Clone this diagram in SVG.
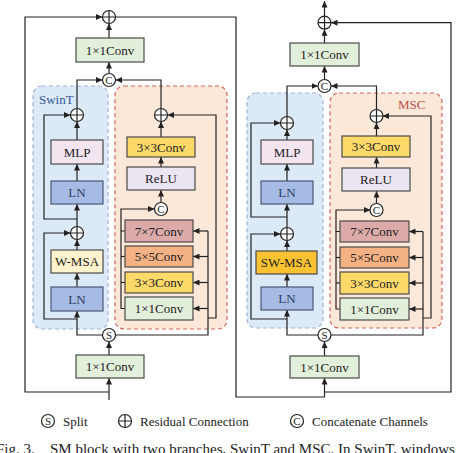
<svg xmlns="http://www.w3.org/2000/svg" width="474" height="453" viewBox="0 0 474 453">
<defs>
<marker id="ah" markerUnits="userSpaceOnUse" markerWidth="7" markerHeight="6" refX="6.5" refY="3" orient="auto">
<path d="M0,0 L6.5,3 L0,6 z" fill="#222"/>
</marker>
<style>
text{font-family:"Liberation Serif","Times New Roman",serif;fill:#222}
.bx{stroke:#4a4a4a;stroke-width:1.2}
.lbl{font-size:13px;text-anchor:middle}
.ln{fill:none;stroke:#222;stroke-width:1.2}
.ar{fill:none;stroke:#222;stroke-width:1.2;marker-end:url(#ah)}
.op{fill:#fff;stroke:#222;stroke-width:1.2}
.opt{font-size:11px;text-anchor:middle}
.g{fill:#e2efda}.p7{fill:#dcaaa9}.p5{fill:#f4b183}.p3{fill:#fdd96a}
.relu{fill:#ebe4f1}.mlp{fill:#f3e5ef}.lnb{fill:#a6bbe3;stroke:#4a5878}.wm{fill:#fff2cc}.swm{fill:#fcc232}
.lnt{fill:#2c3e66}
.swc{fill:#dce9f6;stroke:#9fb4d6;stroke-width:1.2;stroke-dasharray:4 3}
.msc{fill:#fce8d9;stroke:#d5655c;stroke-width:1.2;stroke-dasharray:4 3}
</style>
</defs>
<rect width="474" height="453" fill="#fff"/>

<!-- containers -->
<g id="swint-left"><rect class="swc" x="33" y="86" width="75" height="243" rx="9"/><text x="39" y="104" style="font-size:13px;fill:#2f5597">SwinT</text></g>
<g id="msc-left"><rect class="msc" x="115" y="86" width="112" height="243" rx="9"/></g>
<g id="swint-right"><rect class="swc" x="247" y="93" width="76" height="235" rx="9"/></g>
<g id="msc-right"><rect class="msc" x="330" y="93" width="112" height="235" rx="9"/><text x="398" y="109" style="font-size:13px;fill:#c0504d">MSC</text></g>

<!-- connectors -->
<g id="connectors">
<!-- left block -->
<polyline class="ar" points="109,392 25,392 25,17 102.5,17"/>
<polyline class="ar" points="115.5,17 236,17 236,397 324.5,397 324.5,378"/>
<line class="ar" x1="109" y1="400" x2="109" y2="378"/>
<line class="ar" x1="109" y1="355" x2="109" y2="341.5"/>
<polyline class="ar" points="102.5,335 77,335 77,311"/>
<polyline class="ln" points="115.5,335 208,335 208,231"/>
<line class="ar" x1="208" y1="231" x2="193" y2="231"/>
<line class="ar" x1="208" y1="256.5" x2="193" y2="256.5"/>
<line class="ar" x1="208" y1="282.5" x2="193" y2="282.5"/>
<line class="ar" x1="208" y1="308.5" x2="193" y2="308.5"/>
<polyline class="ar" points="208,318 216,318 216,115 167.5,115"/>
<polyline class="ln" points="125,308.5 121,308.5 121,231 125,231"/>
<line class="ln" x1="121" y1="256.5" x2="125" y2="256.5"/>
<line class="ln" x1="121" y1="282.5" x2="125" y2="282.5"/>
<polyline class="ar" points="121,231 121,209 154.5,209"/>
<line class="ar" x1="161" y1="202.5" x2="161" y2="190"/>
<line class="ar" x1="161" y1="167" x2="161" y2="157"/>
<line class="ar" x1="161" y1="137" x2="161" y2="121.5"/>
<polyline class="ar" points="161,108.5 161,80 115.5,80"/>
<line class="ar" x1="77" y1="287" x2="77" y2="273"/>
<line class="ar" x1="77" y1="250" x2="77" y2="239.5"/>
<line class="ar" x1="77" y1="226.5" x2="77" y2="204"/>
<line class="ar" x1="77" y1="181" x2="77" y2="164"/>
<line class="ar" x1="77" y1="140" x2="77" y2="121.5"/>
<polyline class="ar" points="77,108.5 77,80 102.5,80"/>
<polyline class="ar" points="77,319 44,319 44,233 70.5,233"/>
<polyline class="ar" points="77,219 44,219 44,115 70.5,115"/>
<line class="ar" x1="109" y1="73.5" x2="109" y2="62"/>
<line class="ar" x1="109" y1="38" x2="109" y2="23.5"/>
<!-- right block -->
<polyline class="ar" points="324.5,392 451,392 451,22.7 331,22.7"/>
<line class="ar" x1="324.5" y1="16.2" x2="324.5" y2="1"/>
<line class="ar" x1="324.5" y1="79.5" x2="324.5" y2="66"/>
<line class="ar" x1="324.5" y1="43" x2="324.5" y2="29.2"/>
<line class="ar" x1="324.5" y1="356" x2="324.5" y2="341.5"/>
<polyline class="ar" points="318,335 287,335 287,310"/>
<line class="ar" x1="287" y1="287" x2="287" y2="274"/>
<line class="ar" x1="287" y1="251" x2="287" y2="240.5"/>
<line class="ar" x1="287" y1="227.5" x2="287" y2="204"/>
<line class="ar" x1="287" y1="181" x2="287" y2="164"/>
<line class="ar" x1="287" y1="140" x2="287" y2="129.5"/>
<polyline class="ar" points="287,116.5 287,86 318,86"/>
<polyline class="ar" points="287,319 251,319 251,234 280.5,234"/>
<polyline class="ar" points="287,217 251,217 251,123 280.5,123"/>
<polyline class="ln" points="331,335 423,335 423,231.5"/>
<line class="ar" x1="423" y1="231.5" x2="409" y2="231.5"/>
<line class="ar" x1="423" y1="257.5" x2="409" y2="257.5"/>
<line class="ar" x1="423" y1="283" x2="409" y2="283"/>
<line class="ar" x1="423" y1="309" x2="409" y2="309"/>
<polyline class="ar" points="423,318 431,318 431,116 382.5,116"/>
<polyline class="ln" points="340,309 336,309 336,231.5 340,231.5"/>
<line class="ln" x1="336" y1="257.5" x2="340" y2="257.5"/>
<line class="ln" x1="336" y1="283" x2="340" y2="283"/>
<polyline class="ar" points="336,231.5 336,210 370.5,210"/>
<line class="ar" x1="376.5" y1="203.5" x2="376.5" y2="191"/>
<line class="ar" x1="376.5" y1="168" x2="376.5" y2="157"/>
<line class="ar" x1="376.5" y1="136" x2="376.5" y2="122.5"/>
<polyline class="ar" points="376.5,109.5 376.5,86 331,86"/>
</g>

<!-- left block nodes -->
<g id="L-plus-top"><circle class="op" cx="109" cy="17" r="6.5"/><path class="ln" d="M102.5,17 H115.5 M109,10.5 V23.5"/></g>
<g id="L-conv-top"><rect class="bx g" x="76" y="38" width="68" height="24"/><text class="lbl" x="110" y="54.5">1×1Conv</text></g>
<g id="L-concat"><circle class="op" cx="109" cy="80" r="6.5"/><text class="opt" x="109" y="84">C</text></g>
<g id="L-sw-plus2"><circle class="op" cx="77" cy="115" r="6.5"/><path class="ln" d="M70.5,115 H83.5 M77,108.5 V121.5"/></g>
<g id="L-mlp"><rect class="bx mlp" x="51" y="140" width="52" height="24"/><text class="lbl" x="77" y="156.5">MLP</text></g>
<g id="L-ln2"><rect class="bx lnb" x="51" y="181" width="52" height="23"/><text class="lbl lnt" x="77" y="197">LN</text></g>
<g id="L-sw-plus1"><circle class="op" cx="77" cy="233" r="6.5"/><path class="ln" d="M70.5,233 H83.5 M77,226.5 V239.5"/></g>
<g id="L-wmsa"><rect class="bx wm" x="51" y="250" width="52" height="23"/><text class="lbl" x="77" y="266">W-MSA</text></g>
<g id="L-ln1"><rect class="bx lnb" x="51" y="287" width="52" height="24"/><text class="lbl lnt" x="77" y="303.5">LN</text></g>
<g id="L-msc-plus"><circle class="op" cx="161" cy="115" r="6.5"/><path class="ln" d="M154.5,115 H167.5 M161,108.5 V121.5"/></g>
<g id="L-msc-conv3"><rect class="bx p3" x="127" y="137" width="68" height="20"/><text class="lbl" x="161" y="151.5">3×3Conv</text></g>
<g id="L-relu"><rect class="bx relu" x="127" y="167" width="68" height="23"/><text class="lbl" x="161" y="183">ReLU</text></g>
<g id="L-msc-concat"><circle class="op" cx="161" cy="209" r="6.5"/><text class="opt" x="161" y="213">C</text></g>
<g id="L-c7"><rect class="bx p7" x="125" y="220" width="68" height="22"/><text class="lbl" x="159" y="235.5">7×7Conv</text></g>
<g id="L-c5"><rect class="bx p5" x="125" y="246" width="68" height="21"/><text class="lbl" x="159" y="261">5×5Conv</text></g>
<g id="L-c3"><rect class="bx p3" x="125" y="272" width="68" height="21"/><text class="lbl" x="159" y="287">3×3Conv</text></g>
<g id="L-c1"><rect class="bx g" x="125" y="297" width="68" height="23"/><text class="lbl" x="159" y="313">1×1Conv</text></g>
<g id="L-split"><circle class="op" cx="109" cy="335" r="6.5"/><text class="opt" x="109" y="339">S</text></g>
<g id="L-conv-in"><rect class="bx g" x="76" y="355" width="68" height="23"/><text class="lbl" x="110" y="371">1×1Conv</text></g>

<!-- right block nodes -->
<g id="R-plus-top"><circle class="op" cx="324.5" cy="22.7" r="6.5"/><path class="ln" d="M318,22.7 H331 M324.5,16.2 V29.2"/></g>
<g id="R-conv-top"><rect class="bx g" x="290" y="43" width="69" height="23"/><text class="lbl" x="324.5" y="59">1×1Conv</text></g>
<g id="R-concat"><circle class="op" cx="324.5" cy="86" r="6.5"/><text class="opt" x="324.5" y="90">C</text></g>
<g id="R-sw-plus2"><circle class="op" cx="287" cy="123" r="6.5"/><path class="ln" d="M280.5,123 H293.5 M287,116.5 V129.5"/></g>
<g id="R-mlp"><rect class="bx mlp" x="261" y="140" width="52" height="24"/><text class="lbl" x="287" y="156.5">MLP</text></g>
<g id="R-ln2"><rect class="bx lnb" x="261" y="181" width="52" height="23"/><text class="lbl lnt" x="287" y="197">LN</text></g>
<g id="R-sw-plus1"><circle class="op" cx="287" cy="234" r="6.5"/><path class="ln" d="M280.5,234 H293.5 M287,227.5 V240.5"/></g>
<g id="R-swmsa"><rect class="bx swm" x="256" y="251" width="61" height="23"/><text class="lbl" x="286.5" y="267">SW-MSA</text></g>
<g id="R-ln1"><rect class="bx lnb" x="261" y="287" width="52" height="23"/><text class="lbl lnt" x="287" y="303">LN</text></g>
<g id="R-msc-plus"><circle class="op" cx="376.5" cy="116" r="6.5"/><path class="ln" d="M370,116 H383 M376.5,109.5 V122.5"/></g>
<g id="R-msc-conv3"><rect class="bx p3" x="342" y="136" width="68" height="21"/><text class="lbl" x="376" y="151">3×3Conv</text></g>
<g id="R-relu"><rect class="bx relu" x="342" y="168" width="68" height="23"/><text class="lbl" x="376" y="184">ReLU</text></g>
<g id="R-msc-concat"><circle class="op" cx="376.5" cy="210" r="6.5"/><text class="opt" x="376.5" y="214">C</text></g>
<g id="R-c7"><rect class="bx p7" x="340" y="221" width="69" height="21"/><text class="lbl" x="374.5" y="236">7×7Conv</text></g>
<g id="R-c5"><rect class="bx p5" x="340" y="247" width="69" height="21"/><text class="lbl" x="374.5" y="262">5×5Conv</text></g>
<g id="R-c3"><rect class="bx p3" x="340" y="272" width="69" height="22"/><text class="lbl" x="374.5" y="287.5">3×3Conv</text></g>
<g id="R-c1"><rect class="bx g" x="340" y="298" width="69" height="22"/><text class="lbl" x="374.5" y="313.5">1×1Conv</text></g>
<g id="R-split"><circle class="op" cx="324.5" cy="335" r="6.5"/><text class="opt" x="324.5" y="339">S</text></g>
<g id="R-conv-in"><rect class="bx g" x="290" y="356" width="69" height="22"/><text class="lbl" x="324.5" y="371.5">1×1Conv</text></g>

<!-- legend -->
<g id="legend">
<circle class="op" cx="48" cy="421" r="6.5"/><text class="opt" x="48" y="425">S</text>
<text x="63" y="426" style="font-size:13px">Split</text>
<circle class="op" cx="125" cy="421" r="6.5"/><path class="ln" d="M118.5,421 H131.5 M125,414.5 V427.5"/>
<text x="140" y="426" style="font-size:13px">Residual Connection</text>
<circle class="op" cx="297" cy="421" r="6.5"/><text class="opt" x="297" y="425">C</text>
<text x="312" y="426" style="font-size:13px">Concatenate Channels</text>
</g>
<text x="-4" y="453.5" style="font-size:15px">Fig. 3.<tspan x="50">SM block with two branches, SwinT and MSC. In SwinT, windows</tspan></text>
</svg>
